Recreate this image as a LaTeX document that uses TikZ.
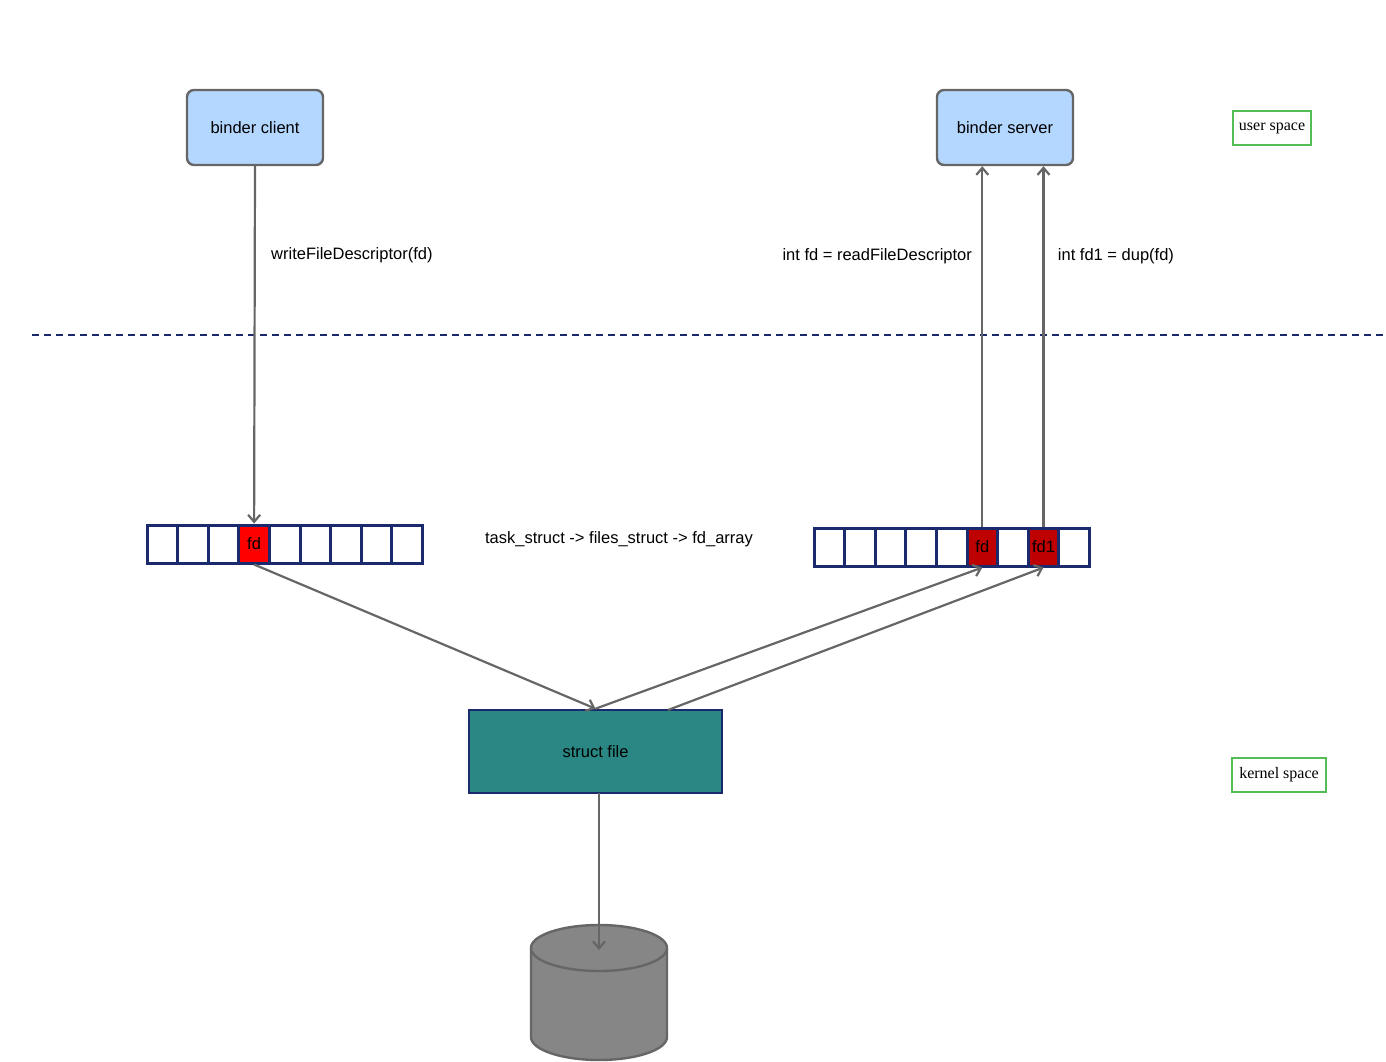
\documentclass[tikz,border=0pt]{standalone}
\usepackage{fontspec}
\setmainfont{Liberation Sans}
\newfontfamily\serifx{Liberation Serif}
\usetikzlibrary{arrows.meta,shapes.geometric}
\definecolor{navy}{HTML}{1A2A6C}
\definecolor{lblue}{HTML}{B3D7FF}
\definecolor{teal2}{HTML}{2B8784}
\definecolor{gline}{HTML}{666666}
\definecolor{grn}{HTML}{55BB55}
\begin{document}
\begin{tikzpicture}[x=1pt,y=-1pt,
  font=\fontsize{16.5}{19}\selectfont,
  proc/.style={draw=gline,line width=2.4pt,fill=lblue,rounded corners=7pt,minimum width=136pt,minimum height=75pt},
  cell/.style={draw=navy,line width=3pt,fill=white,minimum width=30.6pt,minimum height=38pt,inner sep=0pt},
  redc/.style={cell,fill=red},
  dredc/.style={cell,fill=red!75!black},
  lab/.style={draw=grn,line width=2pt,font=\serifx\fontsize{16}{18}\selectfont,inner sep=4pt,minimum height=34pt},
  arr/.style={draw=gline,line width=2.2pt,-{Straight Barb[length=7pt,width=12pt]}},
  ln/.style={draw=gline,line width=2.2pt}]
\useasboundingbox (0,0) rectangle (1386,1062);
\node[proc] (client) at (255,127.5) {binder client};
\node[proc] (server) at (1005,127.5) {binder server};
\node[lab,minimum width=78pt] (us) at (1272,128) {user space};
\node[lab,minimum width=94pt] (ks) at (1279,774.5) {kernel space};
\draw[navy,line width=2.6pt,dash pattern=on 7pt off 5pt] (32,335) -- (1386,335);
% left array
\foreach \i in {0,...,8}{
  \pgfmathsetmacro{\xx}{162.3+30.6*\i}
  \ifnum\i=3 \node[redc] (L\i) at (\xx,544) {fd};
  \else \node[cell] (L\i) at (\xx,544) {}; \fi}
% right array
\foreach \i in {0,...,8}{
  \pgfmathsetmacro{\xx}{829.3+30.6*\i}
  \ifnum\i=5 \node[dredc] (R\i) at (\xx,547) {fd};
  \else\ifnum\i=7 \node[dredc] (R\i) at (\xx,547) {fd1};
  \else \node[cell] (R\i) at (\xx,547) {}; \fi\fi}
\node (arrlab) at (619,539) {task\_struct -> files\_struct -> fd\_array};
\node[draw=navy,line width=2.6pt,fill=teal2,minimum width=253pt,minimum height=83pt] (sf) at (595.5,751.5) {struct file};
% cylinder
\coordinate (dtop) at (599,950);
\fill[gray!95] (531,948) rectangle (667,1037);
\fill[gray!95] (599,1037) ellipse[x radius=68,y radius=23];
\draw[gline,line width=2.4pt] (531,948) -- (531,1037) arc[start angle=180,end angle=360,x radius=68,y radius=-23] -- (667,948);
\draw[gline,line width=2.4pt,fill=gray!95] (599,948) ellipse[x radius=68,y radius=23];
\draw[arr] (client.south) -- node[right=12pt,pos=0.25]{writeFileDescriptor(fd)} (L3.north);
\draw[arr] (R5.north) -- node[left=6pt,pos=0.75]{int fd = readFileDescriptor} (server.south -| R5.north);
\draw[arr] (R7.north) -- node[right=10pt,pos=0.75]{int fd1 = dup(fd)} (server.south -| R7.north);
\draw[arr] (L3.south) -- (sf.north);
\draw[arr] (sf.north) -- (R5.south);
\coordinate (sfb) at (668,710);
\draw[arr] (sfb) -- (R7.south);
\coordinate (sfd) at (599,793);
\draw[arr] (sfd) -- (dtop);
\end{tikzpicture}
\end{document}
